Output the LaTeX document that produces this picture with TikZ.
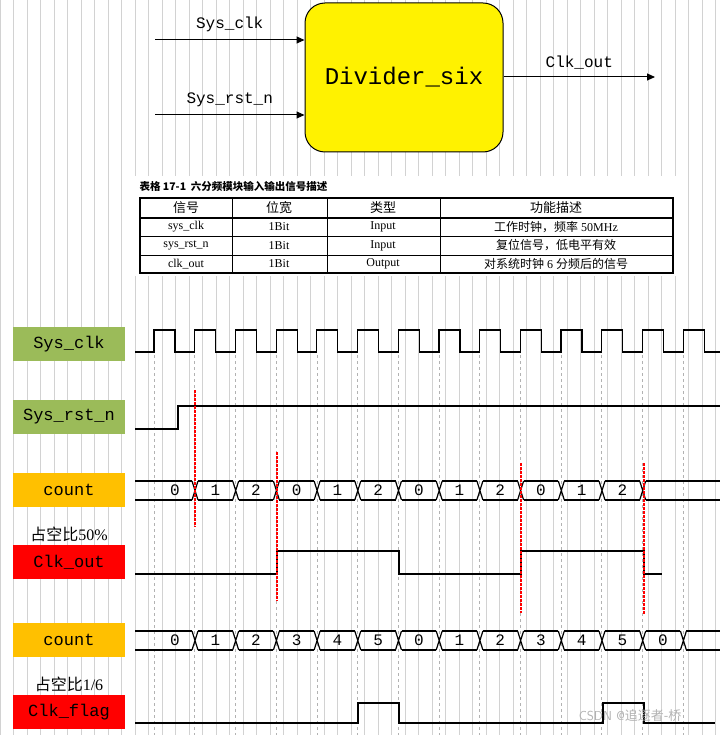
\documentclass[tikz,border=0pt]{standalone}
\usepackage{fontspec}
\setmainfont{Liberation Serif}
\setmonofont{Liberation Mono}
\newfontfamily\cjk{Noto Sans CJK SC}
\usetikzlibrary{arrows.meta,positioning}

\tikzset{
  sigbox/.style={minimum width=112pt, minimum height=34pt, inner sep=0, font=\ttfamily\fontsize{17}{17}\selectfont},
  wave/.style={line width=1.2pt},
  tick/.style={gray!60, dashed, line width=0.6pt},
  redmark/.style={draw=red, dash pattern=on 2.5pt off 1.5pt, line width=1.2pt},
  cell/.style={font=\fontsize{12}{12}\selectfont},
  val/.style={font=\ttfamily\fontsize{16}{16}\selectfont},
}
\newcommand\busrow[3]{% top y, bottom y, values after each edge
  \draw[wave] (135,#1) -- (192,#1) (135,#2) -- (192,#2);
  \node[val] at (175,{(#1+#2)/2}) {0};
  \foreach \v [count=\j from 0] in {#3} {
    \pgfmathsetmacro\t{195+40.7*\j}
    \draw[wave] (\t-3,#1) -- (\t+3,#2) (\t-3,#2) -- (\t+3,#1);
    \ifx\v\empty
      \draw[wave] (\t+3,#1) -- (720,#1) (\t+3,#2) -- (720,#2);
    \else
      \draw[wave] (\t+3,#1) -- (\t+37.7,#1) (\t+3,#2) -- (\t+37.7,#2);
      \node[val] at (\t+20.3,{(#1+#2)/2}) {\v};
    \fi
  }
}

\begin{document}
\begin{tikzpicture}[x=1pt, y=-1pt]
  \useasboundingbox (0,0) rectangle (721,735);
  \fill[white] (0,0) rectangle (721,735);
  \draw[gray!35, line width=0.6pt, step=13.5] (0,0) grid (721,735);

  % block
  \node[draw, line width=1pt, fill=yellow, rounded corners=20pt, minimum width=198pt, minimum height=149pt,
    font=\ttfamily\fontsize{24}{24}\selectfont] (div) at (404,77.5) {Divider\_six};
  \coordinate (clkin) at (155,40);
  \coordinate (rstin) at (155,115);
  \coordinate (outend) at (655,77);
  \draw[-{Triangle[length=8pt,width=7pt]}, line width=1pt] (clkin) -- (clkin -| div.west)
    node[midway, above=4pt, font=\ttfamily\fontsize{16}{16}\selectfont] (lclk) {Sys\_clk};
  \draw[-{Triangle[length=8pt,width=7pt]}, line width=1pt] (rstin) -- (rstin -| div.west)
    node[midway, above=4pt, font=\ttfamily\fontsize{16}{16}\selectfont] (lrst) {Sys\_rst\_n};
  \draw[-{Triangle[length=8pt,width=7pt]}, line width=1pt] (outend -| div.east) -- (outend)
    node[midway, above=4pt, font=\ttfamily\fontsize{16}{16}\selectfont] (lout) {Clk\_out};

  % table
  \fill[white] (133,176) rectangle (678,276);
  \node[anchor=west, font=\cjk\bfseries\fontsize{10.5}{10.5}\selectfont] (cap) at (136,186) {表格 17-1\ \ 六分频模块输入输出信号描述};
  \draw[line width=1.2pt] (140,198) rectangle (673,273);
  \foreach \yy in {218,236,255} \draw[line width=1pt] (140,\yy) -- (673,\yy);
  \foreach \xx in {232,327,440} \draw[line width=1pt] (\xx,198) -- (\xx,273);
  \node[cell, font=\cjk\fontsize{13}{13}\selectfont] at (186,208) {信号};
  \node[cell, font=\cjk\fontsize{13}{13}\selectfont] at (279,208) {位宽};
  \node[cell, font=\cjk\fontsize{13}{13}\selectfont] at (383,208) {类型};
  \node[cell, font=\cjk\fontsize{13}{13}\selectfont] at (556,208) {功能描述};
  \node[cell] at (186,227) {sys\_clk};
  \node[cell] at (279,227) {1Bit};
  \node[cell] at (383,227) {Input};
  \node[cell] at (556,227) {{\cjk 工作时钟，频率} 50MHz};
  \node[cell] at (186,245.5) {sys\_rst\_n};
  \node[cell] at (279,245.5) {1Bit};
  \node[cell] at (383,245.5) {Input};
  \node[cell] at (556,245.5) {\cjk 复位信号，低电平有效};
  \node[cell] at (186,264) {clk\_out};
  \node[cell] at (279,264) {1Bit};
  \node[cell] at (383,264) {Output};
  \node[cell] at (556,264) {{\cjk 对系统时钟} 6 {\cjk 分频后的信号}};

  % signal names
  \node[sigbox, fill={rgb,255:red,155;green,187;blue,89}] (sclk) at (69,344) {Sys\_clk};
  \node[sigbox, fill={rgb,255:red,155;green,187;blue,89}] (srst) at (69,417) {Sys\_rst\_n};
  \node[sigbox, fill={rgb,255:red,255;green,192;blue,0}] (cnta) at (69,490) {count};
  \node[sigbox, fill=red] (sout) at (69,562) {Clk\_out};
  \node[sigbox, fill={rgb,255:red,255;green,192;blue,0}] (cntb) at (69,640) {count};
  \node[sigbox, fill=red] (sflag) at (69,712) {Clk\_flag};
  \node[font=\cjk\fontsize{16}{16}\selectfont, above=0pt of sout] (duta) {占空比\rmfamily 50\%};
  \node[font=\cjk\fontsize{16}{16}\selectfont, above=0pt of sflag] (dutb) {占空比\rmfamily 1/6};

  % clock edges
  \foreach \k in {0,...,13} \draw[tick] ({154+40.7*\k},355) -- ({154+40.7*\k},735);

  % waves
  \draw[wave] (135,352) foreach \k in {0,...,13} { -- ({154+40.7*\k},352) -- ++(0,-22) -- ++(21,0) -- ++(0,22)} -- (720,352);
  \draw[wave] (135,429) -- (178,429) -- (178,406) -- (720,406);
  \busrow{481}{500}{1,2,0,1,2,0,1,2,0,1,2,}
  \draw[wave] (135,574) -- (277,574) -- (277,551) -- (399,551) -- (399,574) -- (521,574) -- (521,551) -- (644,551) -- (644,574) -- (662,574);
  \busrow{631}{650}{1,2,3,4,5,0,1,2,3,4,5,0,}
  \draw[wave] (135,723) -- (358,723) -- (358,703) -- (399,703) -- (399,723) -- (603,723) -- (603,703) -- (644,703) -- (644,723) -- (715,723);

  % sampling marks
  \draw[redmark] (195,390) -- (195,527);
  \draw[redmark] (277,452) -- (277,601);
  \draw[redmark] (521,463) -- (521,613);
  \draw[redmark] (644,463) -- (644,615);

  \node[gray!60, font=\fontsize{13}{13}\selectfont\sffamily] (mark) at (630,716) {CSDN @{\cjk 追逐者-桥}};
\end{tikzpicture}
\end{document}
